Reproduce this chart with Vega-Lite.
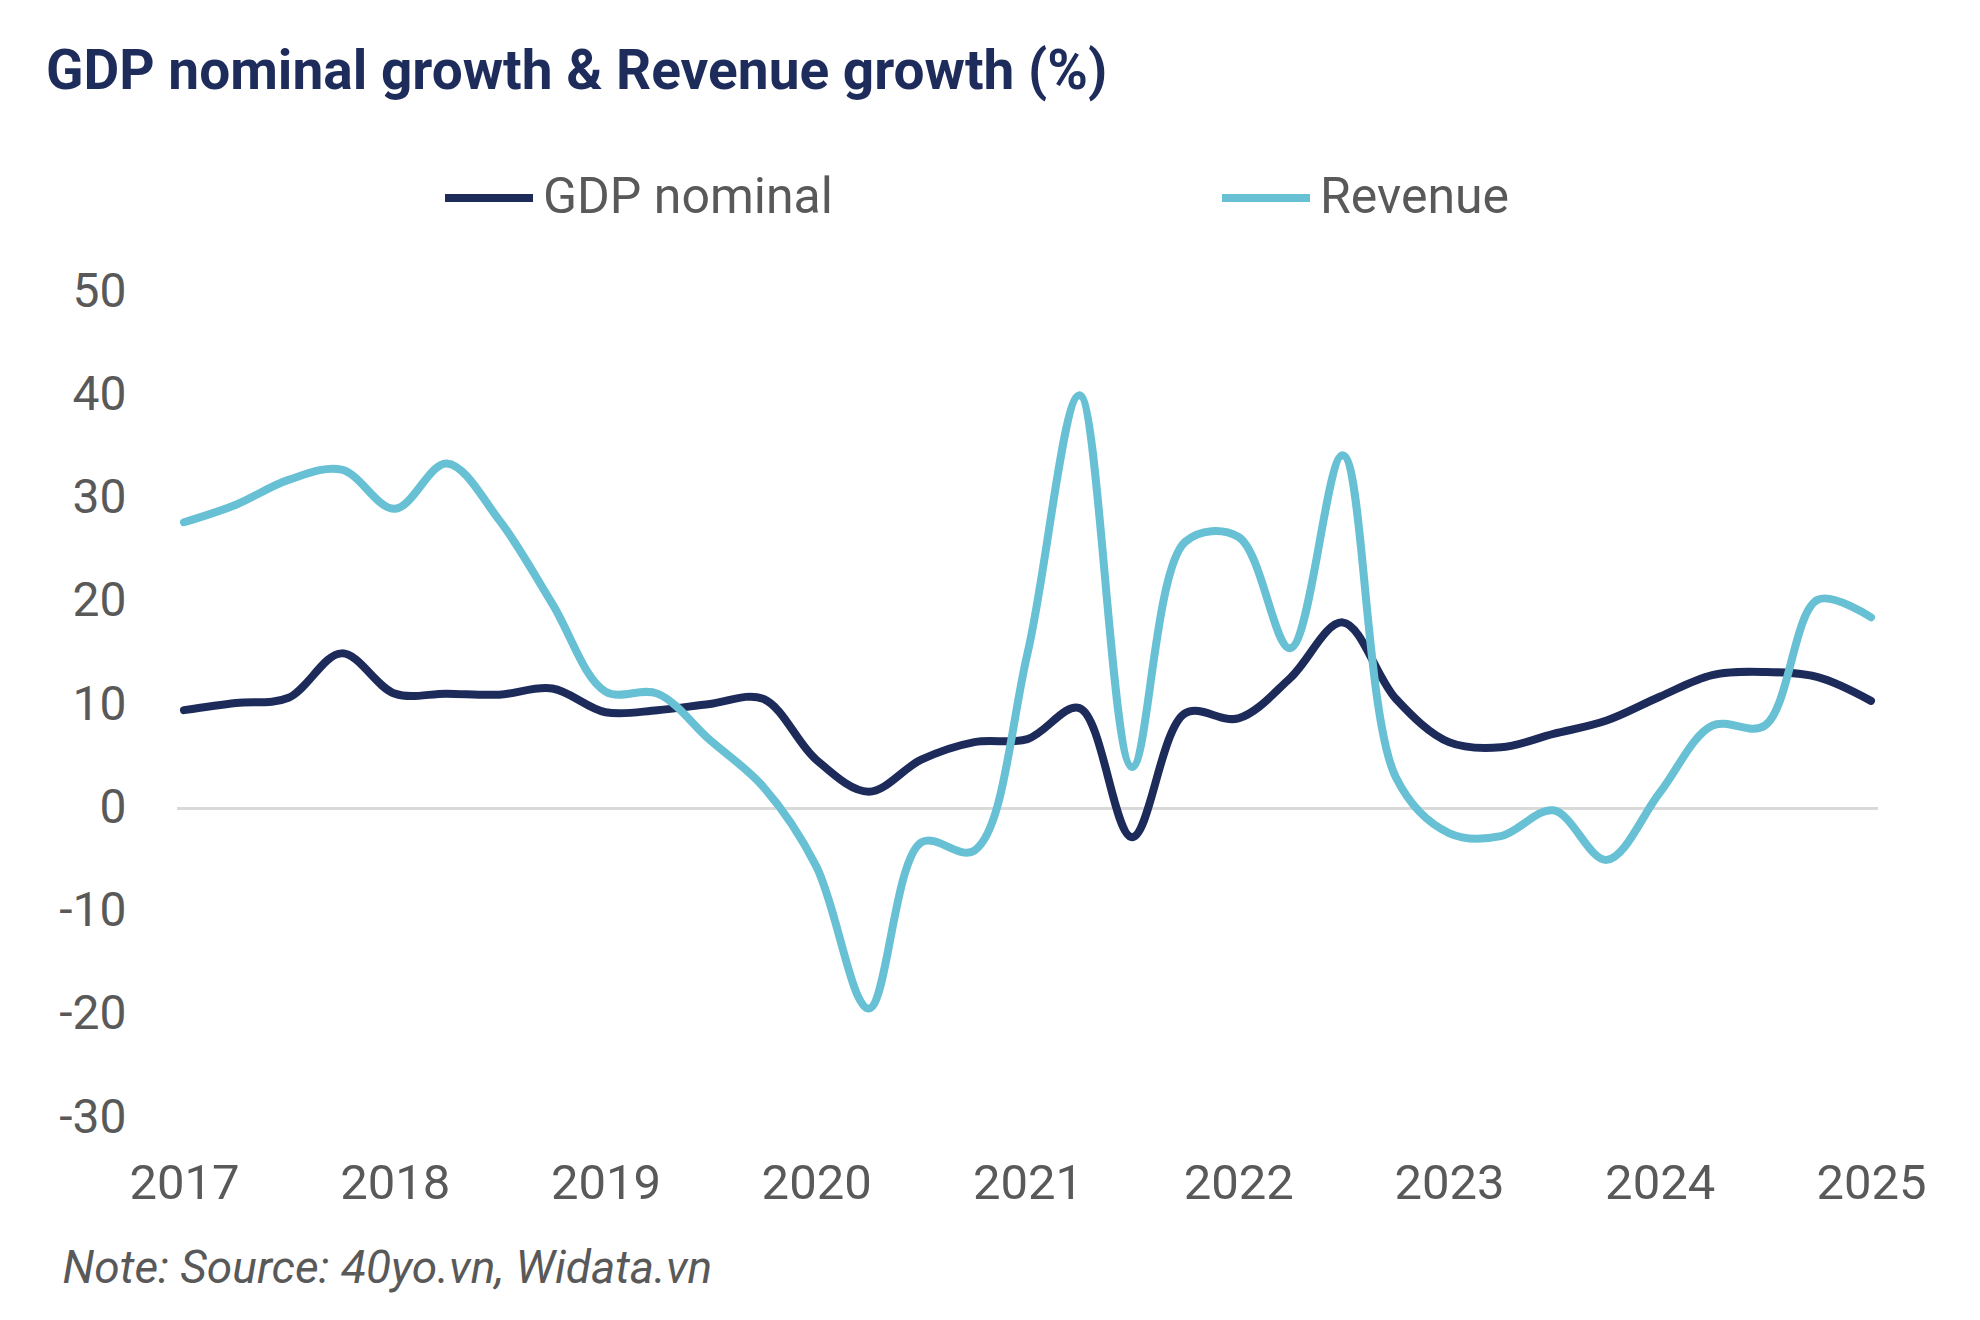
{
  "$schema": "https://vega.github.io/schema/vega-lite/v6.json",
  "width": 1701,
  "height": 826,
  "autosize": {"type": "none"},
  "padding": {"left": 177, "top": 292, "right": 102, "bottom": 202},
  "background": "white",
  "config": {"font": "Roboto", "view": {"stroke": null}},
  "title": {
    "text": "GDP nominal growth & Revenue growth (%)",
    "anchor": "start",
    "frame": "group",
    "orient": "top",
    "font": "Roboto",
    "fontSize": 55,
    "fontWeight": "bold",
    "color": "#1e2c5c",
    "baseline": "alphabetic",
    "dx": -131,
    "offset": 6
  },
  "data": {
    "values": [
      {"date": "2017-01-01", "GDP nominal": 9.5, "Revenue": 27.7},
      {"date": "2017-04-01", "GDP nominal": 10.2, "Revenue": 29.4},
      {"date": "2017-07-01", "GDP nominal": 10.7, "Revenue": 31.8},
      {"date": "2017-10-01", "GDP nominal": 15.0, "Revenue": 32.8},
      {"date": "2018-01-01", "GDP nominal": 11.1, "Revenue": 29.0},
      {"date": "2018-04-01", "GDP nominal": 11.1, "Revenue": 33.4},
      {"date": "2018-07-01", "GDP nominal": 11.0, "Revenue": 27.9},
      {"date": "2018-10-01", "GDP nominal": 11.6, "Revenue": 19.8},
      {"date": "2019-01-01", "GDP nominal": 9.3, "Revenue": 11.3},
      {"date": "2019-04-01", "GDP nominal": 9.5, "Revenue": 11.1},
      {"date": "2019-07-01", "GDP nominal": 10.1, "Revenue": 6.6},
      {"date": "2019-10-01", "GDP nominal": 10.6, "Revenue": 2.1},
      {"date": "2020-01-01", "GDP nominal": 4.7, "Revenue": -5.6},
      {"date": "2020-04-01", "GDP nominal": 1.6, "Revenue": -19.4},
      {"date": "2020-07-01", "GDP nominal": 4.7, "Revenue": -3.3},
      {"date": "2020-10-01", "GDP nominal": 6.4, "Revenue": -4.1},
      {"date": "2021-01-01", "GDP nominal": 6.7, "Revenue": 15.0},
      {"date": "2021-04-01", "GDP nominal": 9.7, "Revenue": 40.0},
      {"date": "2021-07-01", "GDP nominal": -2.8, "Revenue": 4.0},
      {"date": "2021-10-01", "GDP nominal": 9.2, "Revenue": 25.8},
      {"date": "2022-01-01", "GDP nominal": 8.7, "Revenue": 26.3},
      {"date": "2022-04-01", "GDP nominal": 12.6, "Revenue": 15.5},
      {"date": "2022-07-01", "GDP nominal": 18.0, "Revenue": 34.2},
      {"date": "2022-10-01", "GDP nominal": 10.6, "Revenue": 3.0},
      {"date": "2023-01-01", "GDP nominal": 6.4, "Revenue": -2.4},
      {"date": "2023-04-01", "GDP nominal": 5.9, "Revenue": -2.7},
      {"date": "2023-07-01", "GDP nominal": 7.2, "Revenue": -0.2},
      {"date": "2023-10-01", "GDP nominal": 8.5, "Revenue": -5.0},
      {"date": "2024-01-01", "GDP nominal": 10.8, "Revenue": 1.5},
      {"date": "2024-04-01", "GDP nominal": 12.9, "Revenue": 8.0},
      {"date": "2024-07-01", "GDP nominal": 13.2, "Revenue": 8.0},
      {"date": "2024-10-01", "GDP nominal": 12.7, "Revenue": 20.2},
      {"date": "2025-01-01", "GDP nominal": 10.4, "Revenue": 18.5}
    ]
  },
  "layer": [
    {
      "mark": {"type": "rule", "color": "#d9d9d9", "strokeWidth": 2.5},
      "encoding": {"y": {"datum": 0, "type": "quantitative"}}
    },
    {
      "transform": [{"fold": ["GDP nominal", "Revenue"], "as": ["series", "value"]}],
      "mark": {"type": "line", "interpolate": "catmull-rom", "strokeWidth": 8, "strokeCap": "round", "strokeJoin": "round"},
      "encoding": {
        "x": {
          "field": "date",
          "type": "temporal",
          "scale": {
            "type": "utc",
            "domain": [
              {"year": 2017, "month": 1, "date": 1, "utc": true},
              {"year": 2025, "month": 1, "date": 1, "utc": true}
            ],
            "padding": 7
          },
          "axis": {
            "values": [
              {"year": 2017, "month": 1, "date": 1, "utc": true},
              {"year": 2018, "month": 1, "date": 1, "utc": true},
              {"year": 2019, "month": 1, "date": 1, "utc": true},
              {"year": 2020, "month": 1, "date": 1, "utc": true},
              {"year": 2021, "month": 1, "date": 1, "utc": true},
              {"year": 2022, "month": 1, "date": 1, "utc": true},
              {"year": 2023, "month": 1, "date": 1, "utc": true},
              {"year": 2024, "month": 1, "date": 1, "utc": true},
              {"year": 2025, "month": 1, "date": 1, "utc": true}
            ],
            "format": "%Y",
            "formatType": "utc",
            "ticks": false,
            "domain": false,
            "grid": false,
            "labelFont": "Roboto",
            "labelFontSize": 49,
            "labelColor": "#595959",
            "labelPadding": 41,
            "labelFlush": false,
            "labelOverlap": false,
            "title": "Note: Source: 40yo.vn, Widata.vn",
            "titleFont": "Roboto",
            "titleFontStyle": "italic",
            "titleFontWeight": "normal",
            "titleFontSize": 46,
            "titleColor": "#595959",
            "titleAnchor": "start",
            "titleAlign": "left",
            "titleBaseline": "alphabetic",
            "titleX": -115,
            "titleY": 164
          }
        },
        "y": {
          "field": "value",
          "type": "quantitative",
          "scale": {"domain": [-30, 50], "nice": false, "zero": false},
          "axis": {
            "values": [-30, -20, -10, 0, 10, 20, 30, 40, 50],
            "labelExpr": "'' + datum.value",
            "ticks": false,
            "domain": false,
            "grid": false,
            "labelFont": "Roboto",
            "labelFontSize": 48,
            "labelColor": "#595959",
            "labelPadding": 51,
            "title": null
          }
        },
        "color": {
          "field": "series",
          "type": "nominal",
          "scale": {"domain": ["GDP nominal", "Revenue"], "range": ["#1d2b5b", "#67c0d4"]},
          "legend": {
            "orient": "none",
            "direction": "horizontal",
            "legendX": 264,
            "legendY": -142,
            "title": null,
            "symbolType": "stroke",
            "symbolSize": 7744,
            "symbolStrokeWidth": 8,
            "labelFont": "Roboto",
            "labelFontSize": 50,
            "labelColor": "#595959",
            "labelOffset": 6,
            "labelLimit": 600,
            "columnPadding": 373
          }
        }
      }
    }
  ]
}
